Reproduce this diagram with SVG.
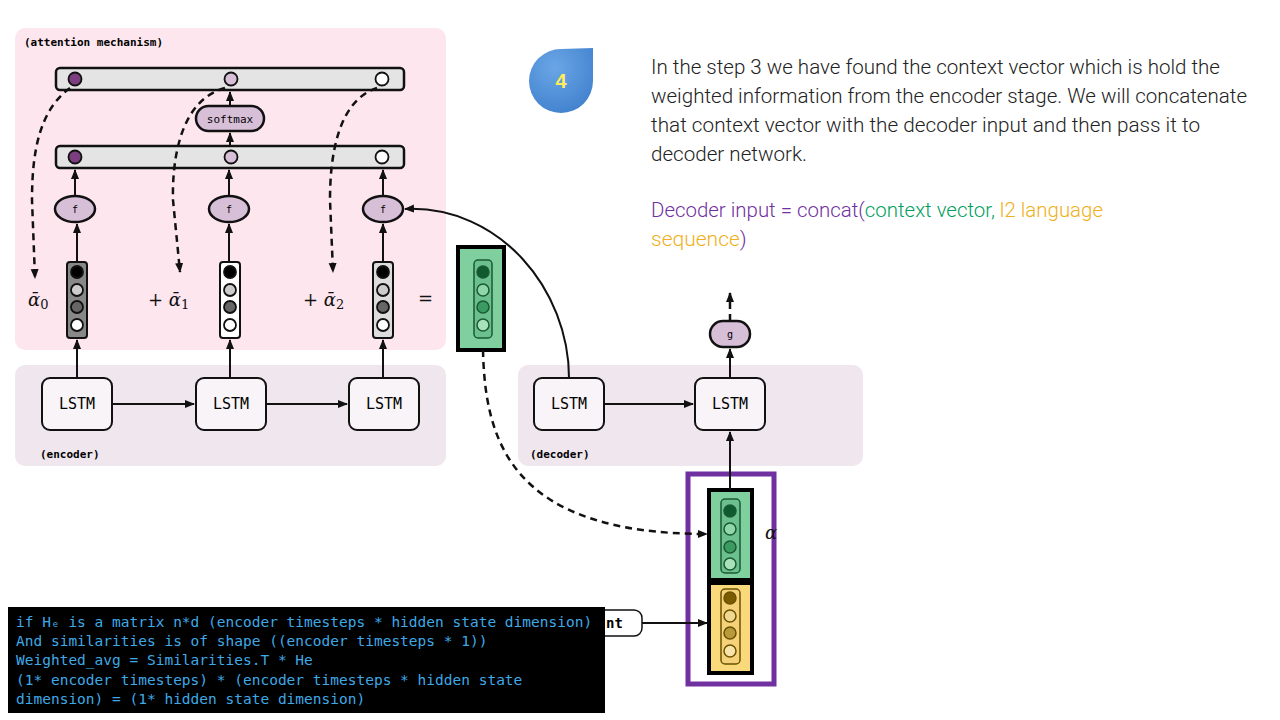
<svg xmlns="http://www.w3.org/2000/svg" width="1280" height="720" viewBox="0 0 1280 720">
<style>
.mono{font-family:"DejaVu Sans Mono","Liberation Mono",monospace}
.bar{fill:#e4e4e4;stroke:#111;stroke-width:2.5}
.pill{fill:#d8bfd8;stroke:#111;stroke-width:2.5}
.lstm{fill:#f8f4f8;stroke:#111;stroke-width:2}
.ln{stroke:#111;stroke-width:2;fill:none}
.dash{stroke:#111;stroke-width:2.5;fill:none;stroke-dasharray:7 5}
.c{stroke:#111;stroke-width:1.8}
.rt{font-family:"Roboto","Liberation Sans",sans-serif;font-size:21px;font-weight:300}
.code{font-family:"DejaVu Sans Mono","Liberation Mono",monospace;font-size:14.5px;fill:#3fa9e6}
.math{font-family:"DejaVu Serif","Liberation Serif",serif;font-style:italic;font-size:18px;fill:#111}
</style>
<defs>
<marker id="ah" markerWidth="10" markerHeight="10" refX="9" refY="5" orient="auto" markerUnits="userSpaceOnUse"><path d="M0,1 L10,5 L0,9 Z" fill="#111"/></marker>
<radialGradient id="bg" cx="0.4" cy="0.3" r="0.8"><stop offset="0" stop-color="#6aa6e6"/><stop offset="1" stop-color="#3f7fcc"/></radialGradient>
</defs>
<rect width="1280" height="720" fill="#fff"/>
<g id="attention-panel"><rect x="15" y="28" width="431" height="322" rx="10" fill="#fde6ee"/>
<text x="24" y="46" class="mono" font-size="11" font-weight="bold">(attention mechanism)</text></g>
<g id="encoder-panel"><rect x="15" y="365" width="431" height="101" rx="10" fill="#efe6ee"/>
<text x="40" y="458" class="mono" font-size="11" font-weight="bold">(encoder)</text></g>
<g id="decoder-panel"><rect x="518" y="365" width="345" height="101" rx="10" fill="#efe6ee"/>
<text x="530" y="458" class="mono" font-size="11" font-weight="bold">(decoder)</text></g>

<g id="top-bar"><rect class="bar" x="56" y="68" width="348" height="22" rx="4"/>
<circle class="c" cx="75" cy="79" r="6.5" fill="#7b3f80"/><circle class="c" cx="231" cy="79" r="6.5" fill="#d8bfd8"/><circle class="c" cx="382" cy="79" r="6.5" fill="#fff"/></g>
<g id="softmax"><rect class="pill" x="196" y="106" width="68" height="25" rx="12.5"/><text x="230" y="123" text-anchor="middle" class="mono" font-size="11">softmax</text></g>
<g id="score-bar"><rect class="bar" x="56" y="146" width="348" height="22" rx="4"/>
<circle class="c" cx="75" cy="157" r="6.5" fill="#7b3f80"/><circle class="c" cx="231" cy="157" r="6.5" fill="#d8bfd8"/><circle class="c" cx="382" cy="157" r="6.5" fill="#fff"/></g>
<g id="f-nodes">
<ellipse class="pill" cx="75" cy="209" rx="20" ry="13"/><text x="75" y="213" text-anchor="middle" class="mono" font-size="10">f</text>
<ellipse class="pill" cx="229" cy="209" rx="20" ry="13"/><text x="229" y="213" text-anchor="middle" class="mono" font-size="10">f</text>
<ellipse class="pill" cx="383" cy="209" rx="20" ry="13"/><text x="383" y="213" text-anchor="middle" class="mono" font-size="10">f</text></g>
<g id="enc-vectors">
<rect x="67" y="262" width="20" height="76" rx="3" fill="#888" stroke="#111" stroke-width="2"/>
<circle class="c" cx="77" cy="272" r="6" fill="#000"/><circle class="c" cx="77" cy="290" r="6" fill="#ccc"/><circle class="c" cx="77" cy="307" r="6" fill="#666"/><circle class="c" cx="77" cy="325" r="6" fill="#fff"/>
<rect x="220" y="262" width="20" height="76" rx="3" fill="#fff" stroke="#111" stroke-width="2"/>
<circle class="c" cx="230" cy="272" r="6" fill="#000"/><circle class="c" cx="230" cy="290" r="6" fill="#ccc"/><circle class="c" cx="230" cy="307" r="6" fill="#666"/><circle class="c" cx="230" cy="325" r="6" fill="#fff"/>
<rect x="373" y="262" width="20" height="76" rx="3" fill="#ddd" stroke="#111" stroke-width="2"/>
<circle class="c" cx="383" cy="272" r="6" fill="#000"/><circle class="c" cx="383" cy="290" r="6" fill="#ccc"/><circle class="c" cx="383" cy="307" r="6" fill="#666"/><circle class="c" cx="383" cy="325" r="6" fill="#fff"/></g>
<g id="alpha-labels">
<text x="28" y="306" class="math">ᾱ<tspan font-style="normal" font-size="13" dy="3">0</tspan></text>
<text x="148" y="306" class="math"><tspan font-style="normal">+ </tspan>ᾱ<tspan font-style="normal" font-size="13" dy="3">1</tspan></text>
<text x="303" y="306" class="math"><tspan font-style="normal">+ </tspan>ᾱ<tspan font-style="normal" font-size="13" dy="3">2</tspan></text>
<text x="418" y="305" class="math" font-style="normal">=</text></g>

<g id="lstm-nodes" class="mono" font-size="15">
<rect class="lstm" x="42" y="378" width="70" height="52" rx="8"/><text x="77" y="409" text-anchor="middle">LSTM</text>
<rect class="lstm" x="196" y="378" width="70" height="52" rx="8"/><text x="231" y="409" text-anchor="middle">LSTM</text>
<rect class="lstm" x="349" y="378" width="70" height="52" rx="8"/><text x="384" y="409" text-anchor="middle">LSTM</text>
<rect class="lstm" x="534" y="378" width="70" height="52" rx="8"/><text x="569" y="409" text-anchor="middle">LSTM</text>
<rect class="lstm" x="695" y="378" width="70" height="52" rx="8"/><text x="730" y="409" text-anchor="middle">LSTM</text></g>

<g id="context-vector"><rect x="458" y="247" width="46" height="103" fill="#7fcf9f" stroke="#000" stroke-width="4"/>
<rect x="474" y="260" width="18" height="78" rx="4" fill="#6cc08e" stroke="#1a5a34" stroke-width="1.5"/>
<circle cx="483" cy="272" r="6" fill="#0f5a2e" stroke="#1a5a34" stroke-width="1.5"/><circle cx="483" cy="290" r="6" fill="#8fd6a8" stroke="#1a5a34" stroke-width="1.5"/><circle cx="483" cy="307" r="6" fill="#3b9a60" stroke="#1a5a34" stroke-width="1.5"/><circle cx="483" cy="325" r="6" fill="#a8e2bb" stroke="#1a5a34" stroke-width="1.5"/></g>

<g id="g-node"><rect class="pill" x="710" y="321" width="40" height="26" rx="13"/><text x="730" y="338" text-anchor="middle" class="mono" font-size="10">g</text></g>

<g id="concat-box"><rect x="688" y="474" width="86" height="210" fill="none" stroke="#7030a0" stroke-width="5"/>
<rect x="709" y="490" width="43" height="90" fill="#7fcf9f" stroke="#000" stroke-width="4"/>
<rect x="721" y="499" width="19" height="74" rx="4" fill="#6cc08e" stroke="#1a5a34" stroke-width="1.5"/>
<circle cx="730" cy="511" r="6" fill="#0f5a2e" stroke="#1a5a34" stroke-width="1.5"/><circle cx="730" cy="529" r="6" fill="#8fd6a8" stroke="#1a5a34" stroke-width="1.5"/><circle cx="730" cy="547" r="6" fill="#3b9a60" stroke="#1a5a34" stroke-width="1.5"/><circle cx="730" cy="564" r="6" fill="#a8e2bb" stroke="#1a5a34" stroke-width="1.5"/>
<rect x="709" y="583" width="43" height="90" fill="#fad97a" stroke="#000" stroke-width="4"/>
<rect x="721" y="589" width="19" height="75" rx="4" fill="#f5d17a" stroke="#6b5200" stroke-width="1.5"/>
<circle cx="730" cy="598" r="6" fill="#7a5c00" stroke="#6b5200" stroke-width="1.5"/><circle cx="730" cy="616" r="6" fill="#f0d890" stroke="#6b5200" stroke-width="1.5"/><circle cx="730" cy="633" r="6" fill="#b89a3a" stroke="#6b5200" stroke-width="1.5"/><circle cx="730" cy="651" r="6" fill="#f8e4a8" stroke="#6b5200" stroke-width="1.5"/>
<text x="765" y="539" class="math" font-size="16">α</text></g>

<g id="connectors">
<line class="ln" x1="75" y1="196" x2="75" y2="170" marker-end="url(#ah)"/>
<line class="ln" x1="229" y1="196" x2="229" y2="170" marker-end="url(#ah)"/>
<line class="ln" x1="383" y1="196" x2="383" y2="170" marker-end="url(#ah)"/>
<line class="ln" x1="230" y1="146" x2="230" y2="133" marker-end="url(#ah)"/>
<line class="ln" x1="230" y1="106" x2="230" y2="92" marker-end="url(#ah)"/>
<line class="ln" x1="77" y1="262" x2="77" y2="224" marker-end="url(#ah)"/>
<line class="ln" x1="229" y1="262" x2="229" y2="224" marker-end="url(#ah)"/>
<line class="ln" x1="383" y1="262" x2="383" y2="224" marker-end="url(#ah)"/>
<line class="ln" x1="77" y1="378" x2="77" y2="340" marker-end="url(#ah)"/>
<line class="ln" x1="230" y1="378" x2="230" y2="340" marker-end="url(#ah)"/>
<line class="ln" x1="383" y1="378" x2="383" y2="340" marker-end="url(#ah)"/>
<line class="ln" x1="112" y1="404" x2="194" y2="404" marker-end="url(#ah)"/>
<line class="ln" x1="266" y1="404" x2="347" y2="404" marker-end="url(#ah)"/>
<line class="ln" x1="604" y1="404" x2="693" y2="404" marker-end="url(#ah)"/>
<line class="ln" x1="730" y1="378" x2="730" y2="349" marker-end="url(#ah)"/>
<line class="ln" x1="730" y1="490" x2="730" y2="432" marker-end="url(#ah)"/>
<line class="dash" x1="730" y1="321" x2="730" y2="293" marker-end="url(#ah)"/>
<path class="dash" d="M70,88 C40,110 32,150 32,200 L35,278" marker-end="url(#ah)"/>
<path class="dash" d="M225,88 C180,100 172,160 173,200 L180,272" marker-end="url(#ah)"/>
<path class="dash" d="M377,88 C340,100 330,150 330,200 L333,272" marker-end="url(#ah)"/>
<path class="ln" d="M569,378 C569,290 500,205 405,209" marker-end="url(#ah)"/>
<path class="dash" d="M483,350 C485,440 510,534 707,534" marker-end="url(#ah)"/>
<line class="ln" x1="642" y1="623" x2="707" y2="623" marker-end="url(#ah)"/>
</g>

<g id="nt-label"><rect x="560" y="610" width="82" height="26" rx="8" fill="#fff" stroke="#111" stroke-width="1.5"/>
<text x="606" y="628" class="mono" font-size="14" font-weight="bold">nt</text></g>

<g id="code-box"><rect x="8" y="607" width="597" height="106" fill="#000"/>
<text class="code"><tspan x="16" y="627">if Hₑ is a matrix n*d (encoder timesteps * hidden state dimension)</tspan><tspan x="16" y="646">And similarities is of shape ((encoder timesteps * 1))</tspan><tspan x="16" y="665">Weighted_avg = Similarities.T * He</tspan><tspan x="16" y="685">(1* encoder timesteps) * (encoder timesteps * hidden state</tspan><tspan x="16" y="704">dimension) = (1* hidden state dimension)</tspan></text></g>

<g id="step-badge"><path d="M593,48 L593,81 A32,32 0 1 1 561,49 Z" fill="url(#bg)"/>
<text x="561" y="88" text-anchor="middle" font-family="Liberation Sans,sans-serif" font-weight="bold" font-size="20" fill="#ffef5a">4</text></g>

<g id="description" class="rt" fill="#222">
<text x="651" y="74" textLength="569" lengthAdjust="spacingAndGlyphs">In the step 3 we have found the context vector which is hold the</text>
<text x="651" y="103" textLength="596" lengthAdjust="spacingAndGlyphs">weighted information from the encoder stage. We will concatenate</text>
<text x="651" y="132" textLength="549" lengthAdjust="spacingAndGlyphs">that context vector with the decoder input and then pass it to</text>
<text x="651" y="161" textLength="156" lengthAdjust="spacingAndGlyphs">decoder network.</text>
<text x="651" y="217" textLength="452" lengthAdjust="spacingAndGlyphs"><tspan fill="#7030a0">Decoder input = concat(</tspan><tspan fill="#00a060">context vector, </tspan><tspan fill="#f0b020">l2 language</tspan></text>
<text x="651" y="246" fill="#f0b020">sequence<tspan fill="#7030a0">)</tspan></text>
</g>
</svg>
